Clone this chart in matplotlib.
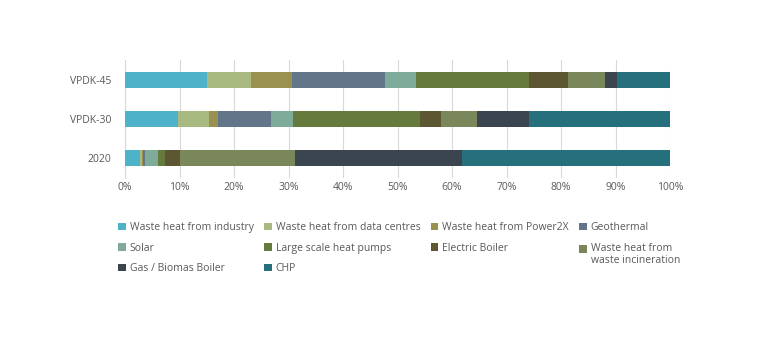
import matplotlib.pyplot as plt
from matplotlib.patches import Patch, Rectangle
from matplotlib.legend_handler import HandlerPatch
from matplotlib.ticker import PercentFormatter

plt.rcParams['font.family'] = ['Open Sans', 'DejaVu Sans']

# scenarios, bottom to top
scenarios = ['2020', 'VPDK-30', 'VPDK-45']

sources = ['Waste heat from industry', 'Waste heat from data centres',
           'Waste heat from Power2X', 'Geothermal', 'Solar',
           'Large scale heat pumps', 'Electric Boiler',
           'Waste heat from\nwaste incineration', 'Gas / Biomas Boiler', 'CHP']

colors = ['#4eb3c8', '#a9ba80', '#9a9150', '#637588', '#7fac9a',
          '#667a3e', '#5c5632', '#7a875a', '#3b4550', '#26707d']

# share of each source (%) for 2020, VPDK-30, VPDK-45
industry = [2.8, 9.8, 15.0]
data_centres = [0.3, 5.6, 8.1]
power2x = [0.2, 1.7, 7.5]
geothermal = [0.3, 9.7, 17.1]
solar = [2.5, 4.1, 5.7]
heat_pumps = [1.2, 23.2, 20.7]
electric_boiler = [2.7, 3.8, 7.2]
waste_incineration = [21.2, 6.7, 6.8]
gas_biomass = [30.6, 9.5, 2.2]
chp = [38.2, 25.9, 9.7]

series = [industry, data_centres, power2x, geothermal, solar, heat_pumps,
          electric_boiler, waste_incineration, gas_biomass, chp]

fig = plt.figure(figsize=(7.68, 3.44), dpi=100)
ax = fig.add_axes([125 / 768, 1 - 178 / 344, 545 / 768, 118 / 344])

left = [0, 0, 0]
for vals, col in zip(series, colors):
    ax.barh(scenarios, vals, left=left, height=0.4, color=col, zorder=3)
    left = [l + v for l, v in zip(left, vals)]

ax.set_xlim(0, 100)
ax.set_ylim(-0.5, 2.5)
ax.set_xticks(range(0, 101, 10))
ax.xaxis.set_major_formatter(PercentFormatter(decimals=0))
ax.grid(axis='x', color='#d9d9d9', linewidth=0.8, zorder=0)
for s in ['top', 'right', 'bottom']:
    ax.spines[s].set_visible(False)
ax.spines['left'].set_color('#d9d9d9')
ax.tick_params(length=0, labelsize=7.5, labelcolor='#595959')
ax.tick_params(axis='x', pad=3)
ax.tick_params(axis='y', pad=10)


# square marker; for the two-line label put it next to the first line
def square(legend, orig_handle, xdescent, ydescent, width, height, fontsize):
    shift = 4.3 if '\n' in orig_handle.get_label() else 0
    return Rectangle((-xdescent, -ydescent + shift), width, height)


# legend: reorder so entries read row by row over 4 columns
order = [0, 4, 8, 1, 5, 9, 2, 6, 3, 7]
handles = [Patch(facecolor=colors[i], label=sources[i]) for i in order]
labels = [sources[i] for i in order]
fig.legend(handles, labels, ncol=4, loc='upper left',
           bbox_to_anchor=(109 / 768, 1 - 213 / 344), frameon=False,
           fontsize=7.5, labelcolor='#595959', handlelength=0.7,
           handleheight=0.7, handletextpad=0.4, columnspacing=1.0,
           labelspacing=0.9,
           handler_map={Patch: HandlerPatch(patch_func=square)})

fig.savefig('out.png', dpi=100)
